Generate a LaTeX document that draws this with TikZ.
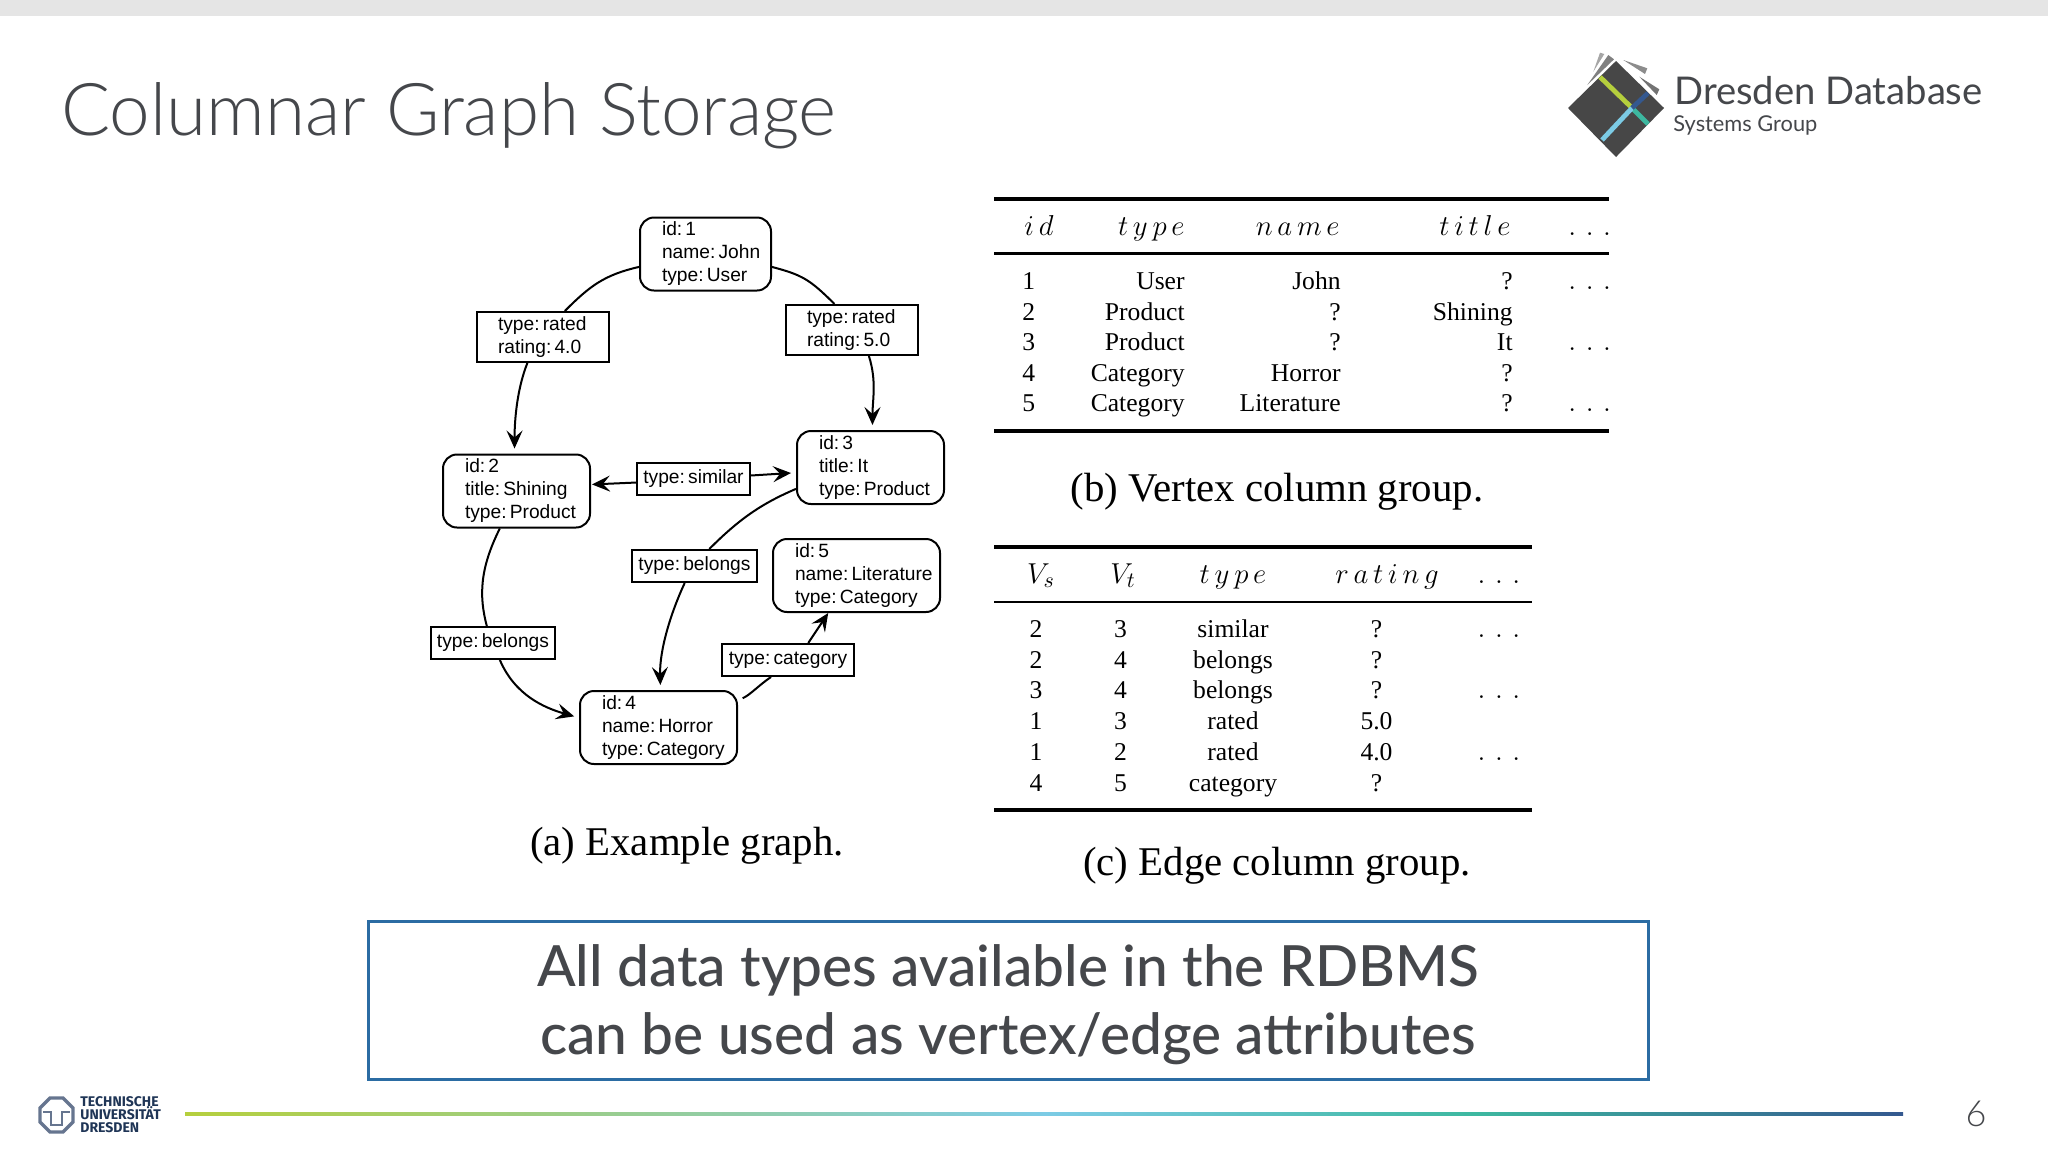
\documentclass[tikz,border=0pt]{standalone}
\usepackage{xcolor}
\usepackage{fontspec}
\setmainfont{Liberation Serif}
\setsansfont{Liberation Sans}
\newfontfamily\slidefont{Lato}
\newfontfamily\slidelight{Lato Light}
\newfontfamily\slidemedium{Lato Medium}
\newfontfamily\tufont{Fira Sans}
\usetikzlibrary{arrows.meta}
\definecolor{slidetext}{HTML}{45474B}
\definecolor{boxblue}{HTML}{2B6CA3}
\definecolor{tublue}{HTML}{1F3556}
\definecolor{tugray}{HTML}{66758F}
\definecolor{linegreen}{HTML}{B5CF3D}
\definecolor{linesky}{HTML}{7CCBE5}
\definecolor{lineteal}{HTML}{3DB8A0}
\definecolor{linenavy}{HTML}{34588F}
\newcommand{\vlines}[3]{\hspace*{11pt}#1\\\hspace*{11pt}#2\\\hspace*{11pt}#3}
\newcommand{\elines}[2]{\hspace*{10.5pt}#1\\\hspace*{10.5pt}#2}
\newcommand{\hdots}{$.\,\,.\,\,.$}
\tikzset{
  vertexbox/.style={draw,line width=1pt,rounded corners=7pt,text width=#1,minimum height=36.5pt,inner xsep=0pt,inner ysep=0pt,align=left,font=\sffamily\fontsize{9.6}{11.5}\selectfont},
  edgebox/.style={draw,line width=1pt,fill=white,minimum width=#1,minimum height=16pt,inner xsep=0pt,inner ysep=0pt,font=\sffamily\fontsize{9.6}{11.5}\selectfont},
  edgetwo/.style={edgebox=66pt,text width=66pt,minimum height=25pt,align=left},
  link/.style={line width=1pt},
  arrowlink/.style={line width=1pt,-{Stealth[length=9pt,width=8pt,inset=3.5pt]},shorten >=2.5pt},
  cell/.style={inner sep=0pt,font=\fontsize{12.8}{12.8}\selectfont},
  headcell/.style={inner sep=0pt,font=\fontsize{15}{15}\selectfont},
  caption/.style={inner sep=0pt,anchor=base,font=\fontsize{20.4}{20.4}\selectfont},
  thickrule/.style={line width=2pt},
  thinrule/.style={line width=1.2pt},
  stripe/.style={line width=2.4pt}
}
\begin{document}
\begin{tikzpicture}[x=0.5pt,y=-0.5pt]
\useasboundingbox (0,0) rectangle (2048,1152);
\fill[white] (0,0) rectangle (2048,1152);
\fill[black!10] (0,0) rectangle (2048,16);

% Slide title
\node[inner sep=0pt,anchor=base west,text=slidetext,font=\slidelight\fontsize{36.4}{36.4}\selectfont] (slidetitle) at (61,135) {Columnar Graph Storage};

% Group logo
\fill[black!72] (1568,108) -- (1616,61) -- (1664,108) -- (1616,157) -- cycle;
\fill[black!35] (1600,52.7) -- (1604.3,54) -- (1593.3,71.7) -- cycle;
\fill[black!50] (1608.3,55) -- (1614,59.3) -- (1587.3,85) -- cycle;
\fill[black!45] (1623.3,60) -- (1647.3,68.3) -- (1645,74) -- cycle;
\fill[black!55] (1639.3,76.7) -- (1659.3,89.3) -- (1656.7,95) -- cycle;
\draw[stripe,linegreen] (1600,77) -- (1632,108);
\draw[stripe,lineteal] (1632,108) -- (1648,124);
\draw[stripe,linesky] (1602,140) -- (1632,108);
\draw[stripe,linenavy] (1632,108) -- (1648,93);
\node[inner sep=0pt,anchor=base west,text=slidetext,font=\slidefont\fontsize{19.1}{19.1}\selectfont] (groupname) at (1674,104) {Dresden Database};
\node[inner sep=0pt,anchor=base west,text=slidetext,font=\slidefont\fontsize{10.9}{10.9}\selectfont] (groupsub) at (1673,131) {Systems Group};

% Example graph
\node[vertexbox=65.5pt] (vone) at (705.5,254) {\vlines{id:\,1}{name:\,John}{type:\,User}};
\node[vertexbox=73.5pt] (vtwo) at (516.5,491) {\vlines{id:\,2}{title:\,Shining}{type:\,Product}};
\node[vertexbox=73.5pt] (vthree) at (870.5,467.5) {\vlines{id:\,3}{title:\,It}{type:\,Product}};
\node[vertexbox=78.5pt] (vfour) at (658.5,727.5) {\vlines{id:\,4}{name:\,Horror}{type:\,Category}};
\node[vertexbox=83.5pt] (vfive) at (856.5,575.5) {\vlines{id:\,5}{name:\,Literature}{type:\,Category}};
\node[edgetwo] (rfour) at (543,337) {\elines{type:\,rated}{rating:\,4.0}};
\node[edgetwo] (rfive) at (852,330) {\elines{type:\,rated}{rating:\,5.0}};
\node[edgebox=56.5pt] (similar) at (693.5,478.5) {type:\,similar};
\node[edgebox=62.5pt] (bone) at (694.5,566) {type:\,belongs};
\node[edgebox=62pt] (btwo) at (493,643) {type:\,belongs};
\node[edgebox=66pt] (categ) at (788,660) {type:\,category};

\draw[link] (vone.191) .. controls +(-35,8) and +(25,-25) .. (rfour.50);
\draw[arrowlink] (rfour.239) .. controls +(-10,25) and +(0,-35) .. (vtwo.93);
\draw[link] (vone.349) .. controls +(30,8) and +(-25,-25) .. (rfive.124);
\draw[arrowlink] (rfive.303) .. controls +(8,25) and +(0,-30) .. (vthree.87);
\draw[arrowlink,shorten >=0.5pt] (similar.184) -- (vtwo.5);
\draw[arrowlink] (similar.3.5) -- (vthree.184);
\draw[link] (vthree.196) .. controls +(-35,15) and +(30,-30) .. (bone.49);
\draw[arrowlink] (bone.240) .. controls +(-14,30) and +(-1,-40) .. (vfour.87);
\draw[link] (vtwo.246) .. controls +(-20,40) and +(-8,-30) .. (btwo.110);
\draw[arrowlink] (btwo.292) .. controls +(15,35) and +(-35,-10) .. (vfour.173);
\draw[link,shorten <=2.5pt] (vfour.19) .. controls +(12,-5) and +(-12,8) .. (categ.225);
\draw[arrowlink,shorten >=0pt] (categ.40) -- (vfive.233);
\node[caption] (capa) at (687,855) {(a) Example graph.};

% Vertex column group
\coordinate (bl1) at (994,198.5);
\coordinate (br1) at (1609,198.5);
\coordinate (bl2) at (994,253.5);
\coordinate (br2) at (1609,253.5);
\coordinate (bl3) at (994,431);
\coordinate (br3) at (1609,431);
\draw[thickrule] (bl1) -- (br1);
\draw[thinrule] (bl2) -- (br2);
\draw[thickrule] (bl3) -- (br3);
\node[headcell,anchor=base west] (bhid) at (1024,235) {$i\,d$};
\node[headcell,anchor=base east] (bhtype) at (1185,235) {$t\,y\,p\,e$};
\node[headcell,anchor=base east] (bhname) at (1340,235) {$n\,a\,m\,e$};
\node[headcell,anchor=base east] (bhtitle) at (1511,235) {$t\,i\,t\,l\,e$};
\node[headcell,anchor=base west] (bhdots) at (1568,235) {\hdots};
\foreach \vid/\y/\vtype/\vname/\vtitle in {1/289/User/John/?,2/320/Product/?/Shining,3/350.5/Product/?/It,4/381/Category/Horror/?,5/411.5/Category/Literature/?}{
  \node[cell,anchor=base west] (bid\vid) at (1022,\y) {\vid};
  \node[cell,anchor=base east] (btype\vid) at (1185,\y) {\vtype};
  \node[cell,anchor=base east] (bname\vid) at (1341,\y) {\vname};
  \node[cell,anchor=base east] (btitle\vid) at (1513,\y) {\vtitle};
}
\foreach \vid/\y in {1/289,3/350.5,5/411.5}
  \node[headcell,anchor=base west] (bdots\vid) at (1568,\y) {\hdots};
\node[caption] (capb) at (1277,501.5) {(b) Vertex column group.};

% Edge column group
\coordinate (cl1) at (994,547);
\coordinate (cr1) at (1532,547);
\coordinate (cl2) at (994,602);
\coordinate (cr2) at (1532,602);
\coordinate (cl3) at (994,810);
\coordinate (cr3) at (1532,810);
\draw[thickrule] (cl1) -- (cr1);
\draw[thinrule] (cl2) -- (cr2);
\draw[thickrule] (cl3) -- (cr3);
\node[headcell,anchor=base] (chs) at (1041,583) {$V_s$};
\node[headcell,anchor=base] (cht) at (1123,583) {$V_t$};
\node[headcell,anchor=base] (chtype) at (1233,583) {$t\,y\,p\,e$};
\node[headcell,anchor=base] (chrating) at (1387,583) {$r\,a\,t\,i\,n\,g$};
\node[headcell,anchor=base] (chdots) at (1499,583) {\hdots};
\foreach \r/\y/\vs/\vt/\etype/\erating in {1/637/2/3/similar/?,2/668/2/4/belongs/?,3/698.5/3/4/belongs/?,4/729/1/3/rated/5.0,5/760/1/2/rated/4.0,6/791/4/5/category/?}{
  \node[cell,anchor=base] (cs\r) at (1036,\y) {\vs};
  \node[cell,anchor=base] (ct\r) at (1120.5,\y) {\vt};
  \node[cell,anchor=base] (ctype\r) at (1233,\y) {\etype};
  \node[cell,anchor=base] (crating\r) at (1376.5,\y) {\erating};
}
\foreach \r/\y in {1/637,3/698.5,5/760}
  \node[headcell,anchor=base] (cdots\r) at (1499,\y) {\hdots};
\node[caption] (capc) at (1277,875) {(c) Edge column group.};

% Callout
\node[draw=boxblue,line width=1.5pt,minimum width=640pt,minimum height=79pt,inner sep=0pt] (callout) at (1008,1000) {};
\node[inner sep=0pt,align=center,text=slidetext,font=\slidemedium\fontsize{28.4}{34}\selectfont] (callouttext) at (1008,1005) {All data types available in the RDBMS\\can be used as vertex/edge attributes};

% Footer
\draw[tugray,line width=1.7pt] (40,1108) -- (50,1098) -- (63,1098) -- (73,1108) -- (73,1122) -- (63,1132) -- (50,1132) -- (40,1122) -- cycle;
\draw[tugray,line width=1.1pt] (43,1112) -- (51,1112) -- (51,1125) -- (62,1125) -- (62,1112) -- (70,1112);
\node[inner sep=0pt,anchor=base west,text=tublue,font=\tufont\bfseries\fontsize{7}{7}\selectfont] (tuone) at (80,1106) {TECHNISCHE};
\node[inner sep=0pt,anchor=base west,text=tublue,font=\tufont\bfseries\fontsize{7}{7}\selectfont] (tutwo) at (80,1119) {UNIVERSITÄT};
\node[inner sep=0pt,anchor=base west,text=tublue,font=\tufont\bfseries\fontsize{7}{7}\selectfont] (tuthree) at (80,1132) {DRESDEN};
\fill[left color=linegreen,right color=linesky] (185,1112.5) rectangle (1044,1115.5);
\fill[left color=linesky,right color=lineteal] (1044,1112.5) rectangle (1474,1115.5);
\fill[left color=lineteal,right color=linenavy] (1474,1112.5) rectangle (1903,1115.5);
\node[inner sep=0pt,text=slidetext,font=\slidelight\fontsize{18}{18}\selectfont] (pagenum) at (1976,1114) {6};
\end{tikzpicture}
\end{document}
